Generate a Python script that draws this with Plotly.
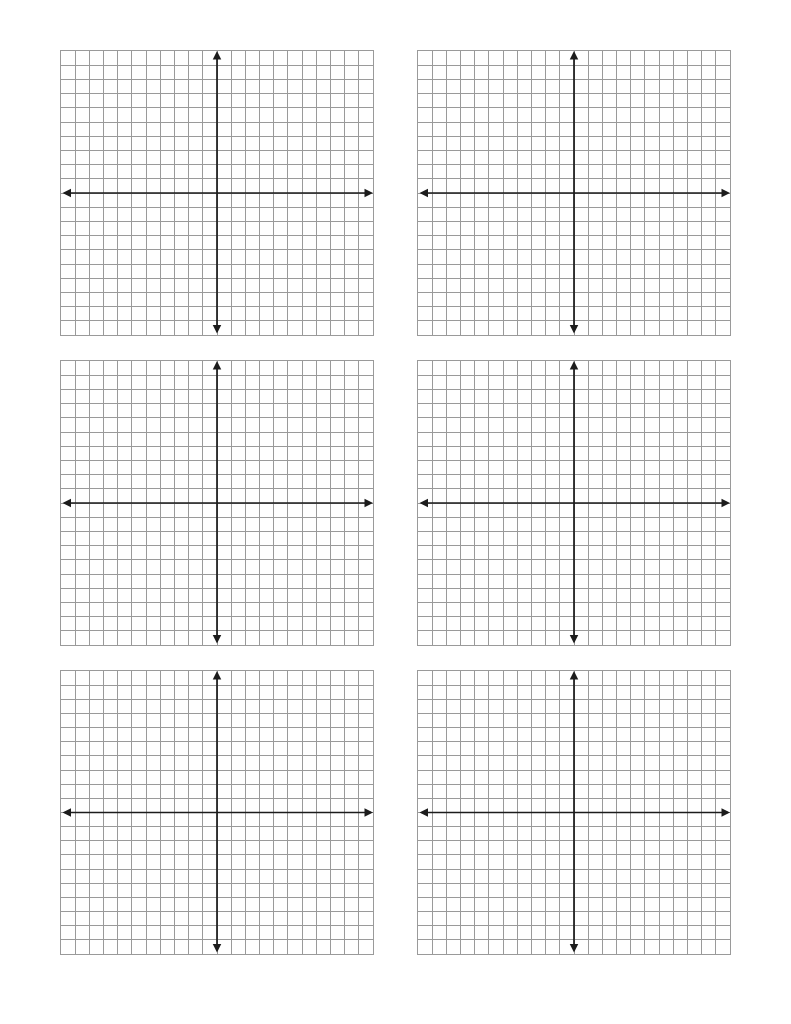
import plotly.graph_objects as go

# blank coordinate grids, 2 columns x 3 rows
x_range = [-11, 11]
y_range = [-10, 10]
n_rows = 3
n_cols = 2

# panel positions in page pixels (window is 791 x 1024, body margin 8px)
PAGE_W, PAGE_H = 791, 1024
OFF = 8
W, H = PAGE_W - 2 * OFF, PAGE_H - 2 * OFF
col_px = [(61, 373), (418, 730)]
row_px = [(51, 335), (361, 645), (671, 954)]

grid_color = "#9a9a9a"
axis_color = "#1c1c1c"

fig = go.Figure()
layout = dict(
    width=W, height=H,
    margin=dict(l=0, r=0, t=0, b=0),
    paper_bgcolor="white", plot_bgcolor="white",
    showlegend=False,
)
annotations = []

k = 0
for r in range(n_rows):
    for c in range(n_cols):
        k += 1
        sfx = "" if k == 1 else str(k)
        x0, x1 = [p - OFF for p in col_px[c]]
        y0, y1 = [p - OFF for p in row_px[r]]
        axis_common = dict(
            dtick=1, tick0=0, showgrid=True, gridcolor=grid_color, gridwidth=1,
            zeroline=False, showticklabels=False, ticks="",
            showline=True, linecolor=grid_color, linewidth=1, mirror=True,
            fixedrange=True,
        )
        layout["xaxis" + sfx] = dict(axis_common, range=x_range,
                                     domain=[x0 / W, x1 / W], anchor="y" + sfx)
        layout["yaxis" + sfx] = dict(axis_common, range=y_range,
                                     domain=[1 - y1 / H, 1 - y0 / H], anchor="x" + sfx)
        # invisible trace so the axes get drawn
        fig.add_trace(go.Scatter(x=[None], y=[None], xaxis="x" + sfx, yaxis="y" + sfx,
                                 hoverinfo="skip"))
        # horizontal axis with arrows on both ends
        annotations.append(dict(
            x=x_range[1], y=0, ax=x_range[0], ay=0,
            xref="x" + sfx, yref="y" + sfx, axref="x" + sfx, ayref="y" + sfx,
            text="", showarrow=True, arrowside="end+start", arrowhead=2,
            arrowsize=1.0, arrowwidth=1.7, arrowcolor=axis_color, standoff=0,
        ))
        # vertical axis with arrows on both ends
        annotations.append(dict(
            x=0, y=y_range[1], ax=0, ay=y_range[0],
            xref="x" + sfx, yref="y" + sfx, axref="x" + sfx, ayref="y" + sfx,
            text="", showarrow=True, arrowside="end+start", arrowhead=2,
            arrowsize=1.0, arrowwidth=1.7, arrowcolor=axis_color, standoff=0,
        ))

layout["annotations"] = annotations
fig.update_layout(**layout)
fig.write_html("out.html")
